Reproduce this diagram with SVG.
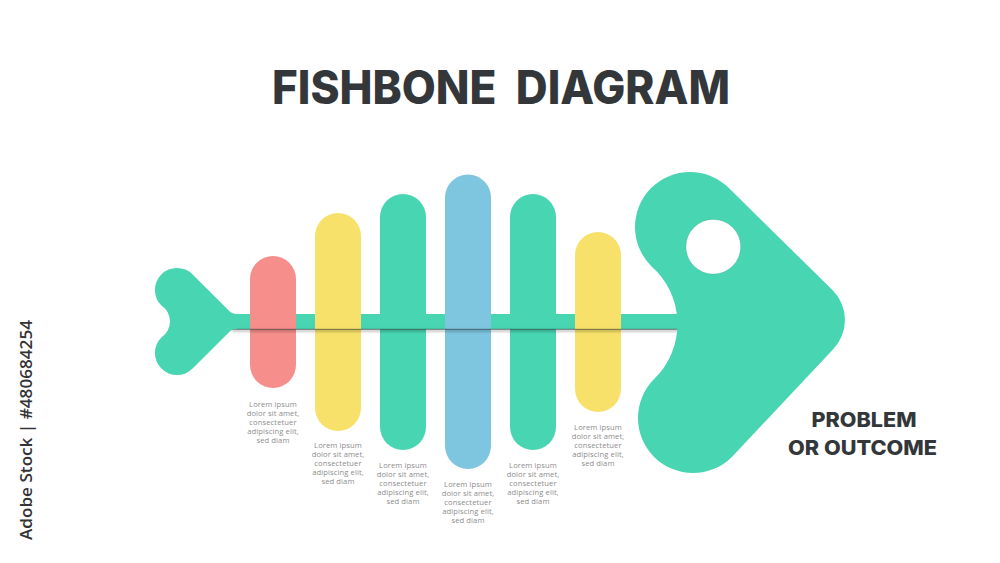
<svg xmlns="http://www.w3.org/2000/svg" width="1000" height="563" viewBox="0 0 1000 563">
<style>
.teal{fill:#48D5B2}
.red{fill:#F68F8C}
.yel{fill:#F8E16A}
.blue{fill:#7EC5E0}
.lbl{font-family:"Open Sans","Noto Sans",sans-serif;font-size:7.6px;fill:#8c8c8c;text-anchor:middle;letter-spacing:0.1px}
.ttl{font-family:"Inter","Liberation Sans",sans-serif;font-weight:800;fill:#33373a}
</style>
<defs>
<filter id="blur" x="-5%" y="-200%" width="110%" height="500%"><feGaussianBlur stdDeviation="1.2"/></filter>
</defs>
<rect width="1000" height="563" fill="#ffffff"/>

<g id="title">
<text class="ttl" x="272" y="104" font-size="46" textLength="458" lengthAdjust="spacingAndGlyphs" style="white-space:pre">FISHBONE  DIAGRAM</text>
</g>

<g id="connectors">
<rect id="spine" class="teal" x="230" y="314" width="455" height="15"/>
</g>

<g id="bone1"><rect class="red" x="250" y="256" width="46" height="132" rx="23"/>
<text class="lbl" x="273" y="407"><tspan x="273">Lorem ipsum</tspan><tspan x="273" dy="8.9">dolor sit amet,</tspan><tspan x="273" dy="8.9">consectetuer</tspan><tspan x="273" dy="8.9">adipiscing elit,</tspan><tspan x="273" dy="8.9">sed diam</tspan></text></g>
<g id="bone2"><rect class="yel" x="315" y="213" width="46" height="218" rx="23"/>
<text class="lbl" x="338" y="448"><tspan x="338">Lorem ipsum</tspan><tspan x="338" dy="8.9">dolor sit amet,</tspan><tspan x="338" dy="8.9">consectetuer</tspan><tspan x="338" dy="8.9">adipiscing elit,</tspan><tspan x="338" dy="8.9">sed diam</tspan></text></g>
<g id="bone3"><rect class="teal" x="380" y="194" width="46" height="256" rx="23"/>
<text class="lbl" x="403" y="468"><tspan x="403">Lorem ipsum</tspan><tspan x="403" dy="8.9">dolor sit amet,</tspan><tspan x="403" dy="8.9">consectetuer</tspan><tspan x="403" dy="8.9">adipiscing elit,</tspan><tspan x="403" dy="8.9">sed diam</tspan></text></g>
<g id="bone4"><rect class="blue" x="445" y="174.5" width="46" height="294.5" rx="23"/>
<text class="lbl" x="468" y="487"><tspan x="468">Lorem ipsum</tspan><tspan x="468" dy="8.9">dolor sit amet,</tspan><tspan x="468" dy="8.9">consectetuer</tspan><tspan x="468" dy="8.9">adipiscing elit,</tspan><tspan x="468" dy="8.9">sed diam</tspan></text></g>
<g id="bone5"><rect class="teal" x="510" y="194" width="46" height="256" rx="23"/>
<text class="lbl" x="533" y="468"><tspan x="533">Lorem ipsum</tspan><tspan x="533" dy="8.9">dolor sit amet,</tspan><tspan x="533" dy="8.9">consectetuer</tspan><tspan x="533" dy="8.9">adipiscing elit,</tspan><tspan x="533" dy="8.9">sed diam</tspan></text></g>
<g id="bone6"><rect class="yel" x="575" y="232" width="46" height="180" rx="23"/>
<text class="lbl" x="598" y="430"><tspan x="598">Lorem ipsum</tspan><tspan x="598" dy="8.9">dolor sit amet,</tspan><tspan x="598" dy="8.9">consectetuer</tspan><tspan x="598" dy="8.9">adipiscing elit,</tspan><tspan x="598" dy="8.9">sed diam</tspan></text></g>

<g id="spine-shadow">
<rect x="232" y="329.5" width="446" height="2.5" fill="#000" opacity="0.22" filter="url(#blur)"/>
<line x1="232" y1="329.4" x2="678" y2="329.4" stroke="#2e3a36" stroke-opacity="0.6" stroke-width="1"/>
</g>

<g id="tail">
<path class="teal" d="M161.4 305.6 A22 22 0 0 1 161.4 274.4 A22 22 0 0 1 192.6 274.4 L229 310.8 Q232.2 314 237 314 L237 329 Q232.2 329 229 332.2 L192.6 368.6 A22 22 0 0 1 161.4 368.6 A22 22 0 0 1 161.4 337.4 A19 19 0 0 0 161.4 305.6 Z"/>
</g>

<g id="head">
<path class="teal" d="M651.1 265.9 A55 55 0 0 1 651.1 188.1 A55 55 0 0 1 728.9 188.1 L832.7 290.3 A42 42 0 0 1 832.7 349.7 L731.9 456.9 A55 55 0 0 1 654.1 456.9 A55 55 0 0 1 654.1 379.1 A77 77 0 0 0 651.1 265.9 Z"/>
<circle cx="713.3" cy="246.7" r="27.3" fill="#ffffff" stroke="#000" stroke-opacity="0.08" stroke-width="1"/>
</g>

<g id="outcome">
<text class="ttl" x="864" y="427" font-size="20.5" text-anchor="middle" textLength="105" lengthAdjust="spacingAndGlyphs">PROBLEM</text>
<text class="ttl" x="862.5" y="455" font-size="20.5" text-anchor="middle" textLength="149" lengthAdjust="spacingAndGlyphs">OR OUTCOME</text>
</g>

<g id="credit">
<text transform="translate(32,320) rotate(-90)" text-anchor="end" font-family="Open Sans, Noto Sans, sans-serif" font-weight="600" font-size="16" fill="#333333" textLength="220" lengthAdjust="spacingAndGlyphs">Adobe Stock | #480684254</text>
</g>
</svg>
